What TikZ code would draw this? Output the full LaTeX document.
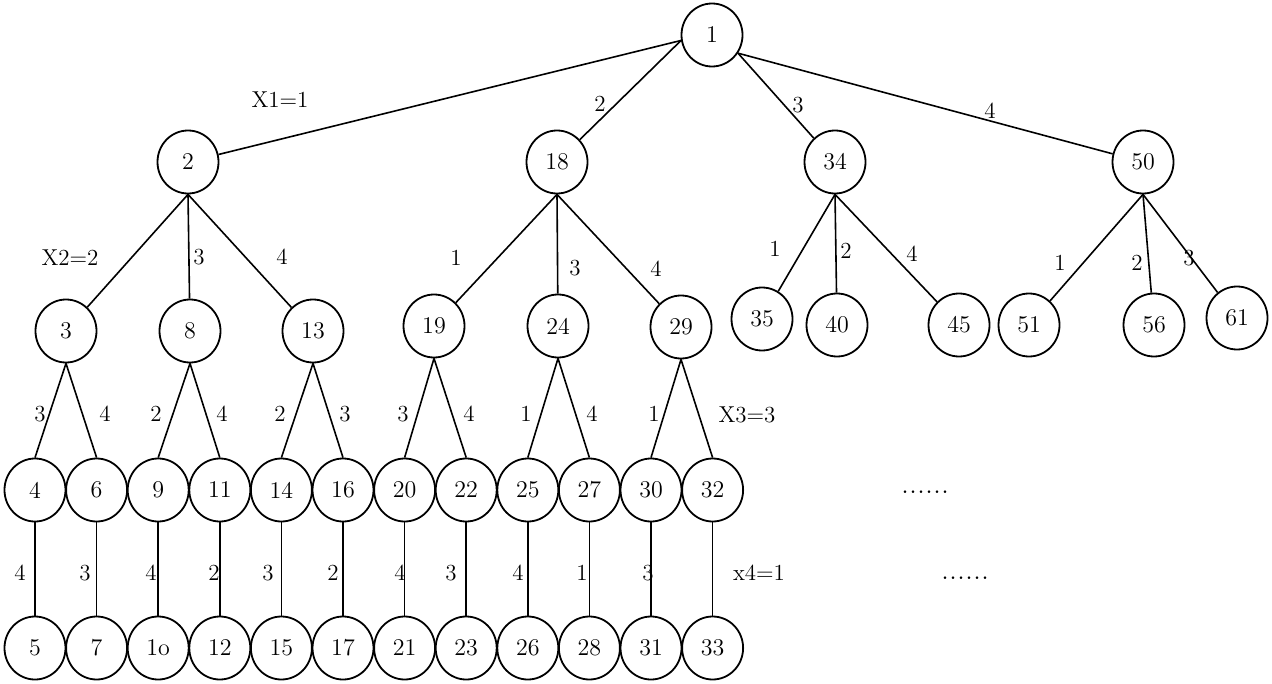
\documentclass[tikz,border=0pt]{standalone}
\usetikzlibrary{shapes.geometric}

\tikzset{
  vertex/.style={draw, ellipse, line width=0.9pt, minimum width=30.5pt,
    minimum height=31.5pt, inner sep=0pt, font=\fontsize{12}{14}\selectfont},
  edge/.style={line width=0.8pt},
  lab/.style={inner sep=0pt, font=\fontsize{11.5}{14}\selectfont},
  dotrow/.style={inner sep=0pt, anchor=base, font=\fontsize{16}{18}\selectfont}
}

\begin{document}
\begin{tikzpicture}[x=0.5pt, y=-0.5pt]
  \useasboundingbox (0,0) rectangle (1272,684);

  % Draw the root
  \node[vertex] (n1) at (712,35) {1};

  % Draw the second level
  \node[vertex] (n2) at (188,162) {2};
  \node[vertex] (n18) at (557,162) {18};
  \node[vertex] (n34) at (835,162) {34};
  \node[vertex] (n50) at (1143,162) {50};

  % Draw the third level
  \node[vertex] (n3) at (66,331) {3};
  \node[vertex] (n8) at (190,331) {8};
  \node[vertex] (n13) at (313,331) {13};
  \node[vertex] (n19) at (434,326) {19};
  \node[vertex] (n24) at (558,326) {24};
  \node[vertex] (n29) at (681,327) {29};
  \node[vertex] (n35) at (762,319) {35};
  \node[vertex] (n40) at (837,325) {40};
  \node[vertex] (n45) at (959,325) {45};
  \node[vertex] (n51) at (1029,325) {51};
  \node[vertex] (n56) at (1154,325) {56};
  \node[vertex] (n61) at (1237,318) {61};

  % Draw the two bottom rows and the lines between them
  \foreach \a/\b/\t [count=\i from 0] in {4/5/5, 6/7/7, 9/10/1o, 11/12/12,
      14/15/15, 16/17/17, 20/21/21, 22/23/23, 25/26/26, 27/28/28, 30/31/31, 32/33/33} {
    \node[vertex] (n\a) at ({35+61.6*\i},490) {\a};
    \node[vertex] (n\b) at ({35+61.6*\i},648) {\t};
    \draw[edge] (n\a.south) -- (n\b.north);
  }

  % Draw the lines from the root
  \draw[edge] (n1.190) -- (n2);
  \draw[edge] (n1.190) -- (n18);
  \draw[edge] (n1.-35) -- (n34);
  \draw[edge] (n1.-35) -- (n50);

  % Draw the lines from the second level
  \draw[edge] (n2.south) -- (n3);
  \draw[edge] (n2.south) -- (n8);
  \draw[edge] (n2.south) -- (n13);
  \draw[edge] (n18.south) -- (n19);
  \draw[edge] (n18.south) -- (n24);
  \draw[edge] (n18.south) -- (n29);
  \draw[edge] (n34.south) -- (n35);
  \draw[edge] (n34.south) -- (n40);
  \draw[edge] (n34.south) -- (n45);
  \draw[edge] (n50.south) -- (n51);
  \draw[edge] (n50.south) -- (n56);
  \draw[edge] (n50.south) -- (n61);

  % Draw the lines from the third level
  \draw[edge] (n3.south) -- (n4.north);
  \draw[edge] (n3.south) -- (n6.north);
  \draw[edge] (n8.south) -- (n9.north);
  \draw[edge] (n8.south) -- (n11.north);
  \draw[edge] (n13.south) -- (n14.north);
  \draw[edge] (n13.south) -- (n16.north);
  \draw[edge] (n19.south) -- (n20.north);
  \draw[edge] (n19.south) -- (n22.north);
  \draw[edge] (n24.south) -- (n25.north);
  \draw[edge] (n24.south) -- (n27.north);
  \draw[edge] (n29.south) -- (n30.north);
  \draw[edge] (n29.south) -- (n32.north);

  % Labels on the first level
  \node[lab] (x1) at (280,100) {X1=1};
  \node[lab] (a2) at (600,104) {2};
  \node[lab] (a3) at (798,105) {3};
  \node[lab] (a4) at (990,111) {4};

  % Labels on the second level
  \node[lab] (x2) at (70,258) {X2=2};
  \node[lab] (b3) at (199,257) {3};
  \node[lab] (b4) at (282,257) {4};
  \node[lab] (c1) at (456,258) {1};
  \node[lab] (c3) at (575,268) {3};
  \node[lab] (c4) at (656,269) {4};
  \node[lab] (d1) at (775,249) {1};
  \node[lab] (d2) at (846,251) {2};
  \node[lab] (d4) at (912,254) {4};
  \node[lab] (e1) at (1060,263) {1};
  \node[lab] (e2) at (1137,263) {2};
  \node[lab] (e3) at (1189,258) {3};

  % Labels on the third level
  \node[lab] (f1) at (40,414) {3};
  \node[lab] (f2) at (105,414) {4};
  \node[lab] (f3) at (156,414) {2};
  \node[lab] (f4) at (222,414) {4};
  \node[lab] (f5) at (280,414) {2};
  \node[lab] (f6) at (345,414) {3};
  \node[lab] (f7) at (403,414) {3};
  \node[lab] (f8) at (469,414) {4};
  \node[lab] (f9) at (526,414) {1};
  \node[lab] (f10) at (592,414) {4};
  \node[lab] (f11) at (654,414) {1};
  \node[lab] (x3) at (747,415) {X3=3};

  % Labels on the fourth level
  \node[lab] (g1) at (20,573) {4};
  \node[lab] (g2) at (85,573) {3};
  \node[lab] (g3) at (151,573) {4};
  \node[lab] (g4) at (214,573) {2};
  \node[lab] (g5) at (268,573) {3};
  \node[lab] (g6) at (333,573) {2};
  \node[lab] (g7) at (400,573) {4};
  \node[lab] (g8) at (451,573) {3};
  \node[lab] (g9) at (518,573) {4};
  \node[lab] (g10) at (582,573) {1};
  \node[lab] (g11) at (648,573) {3};
  \node[lab] (x4) at (759,573) {x4=1};

  % The dots
  \node[dotrow] (dots1) at (925,493) {......};
  \node[dotrow] (dots2) at (965,579) {......};
\end{tikzpicture}
\end{document}
